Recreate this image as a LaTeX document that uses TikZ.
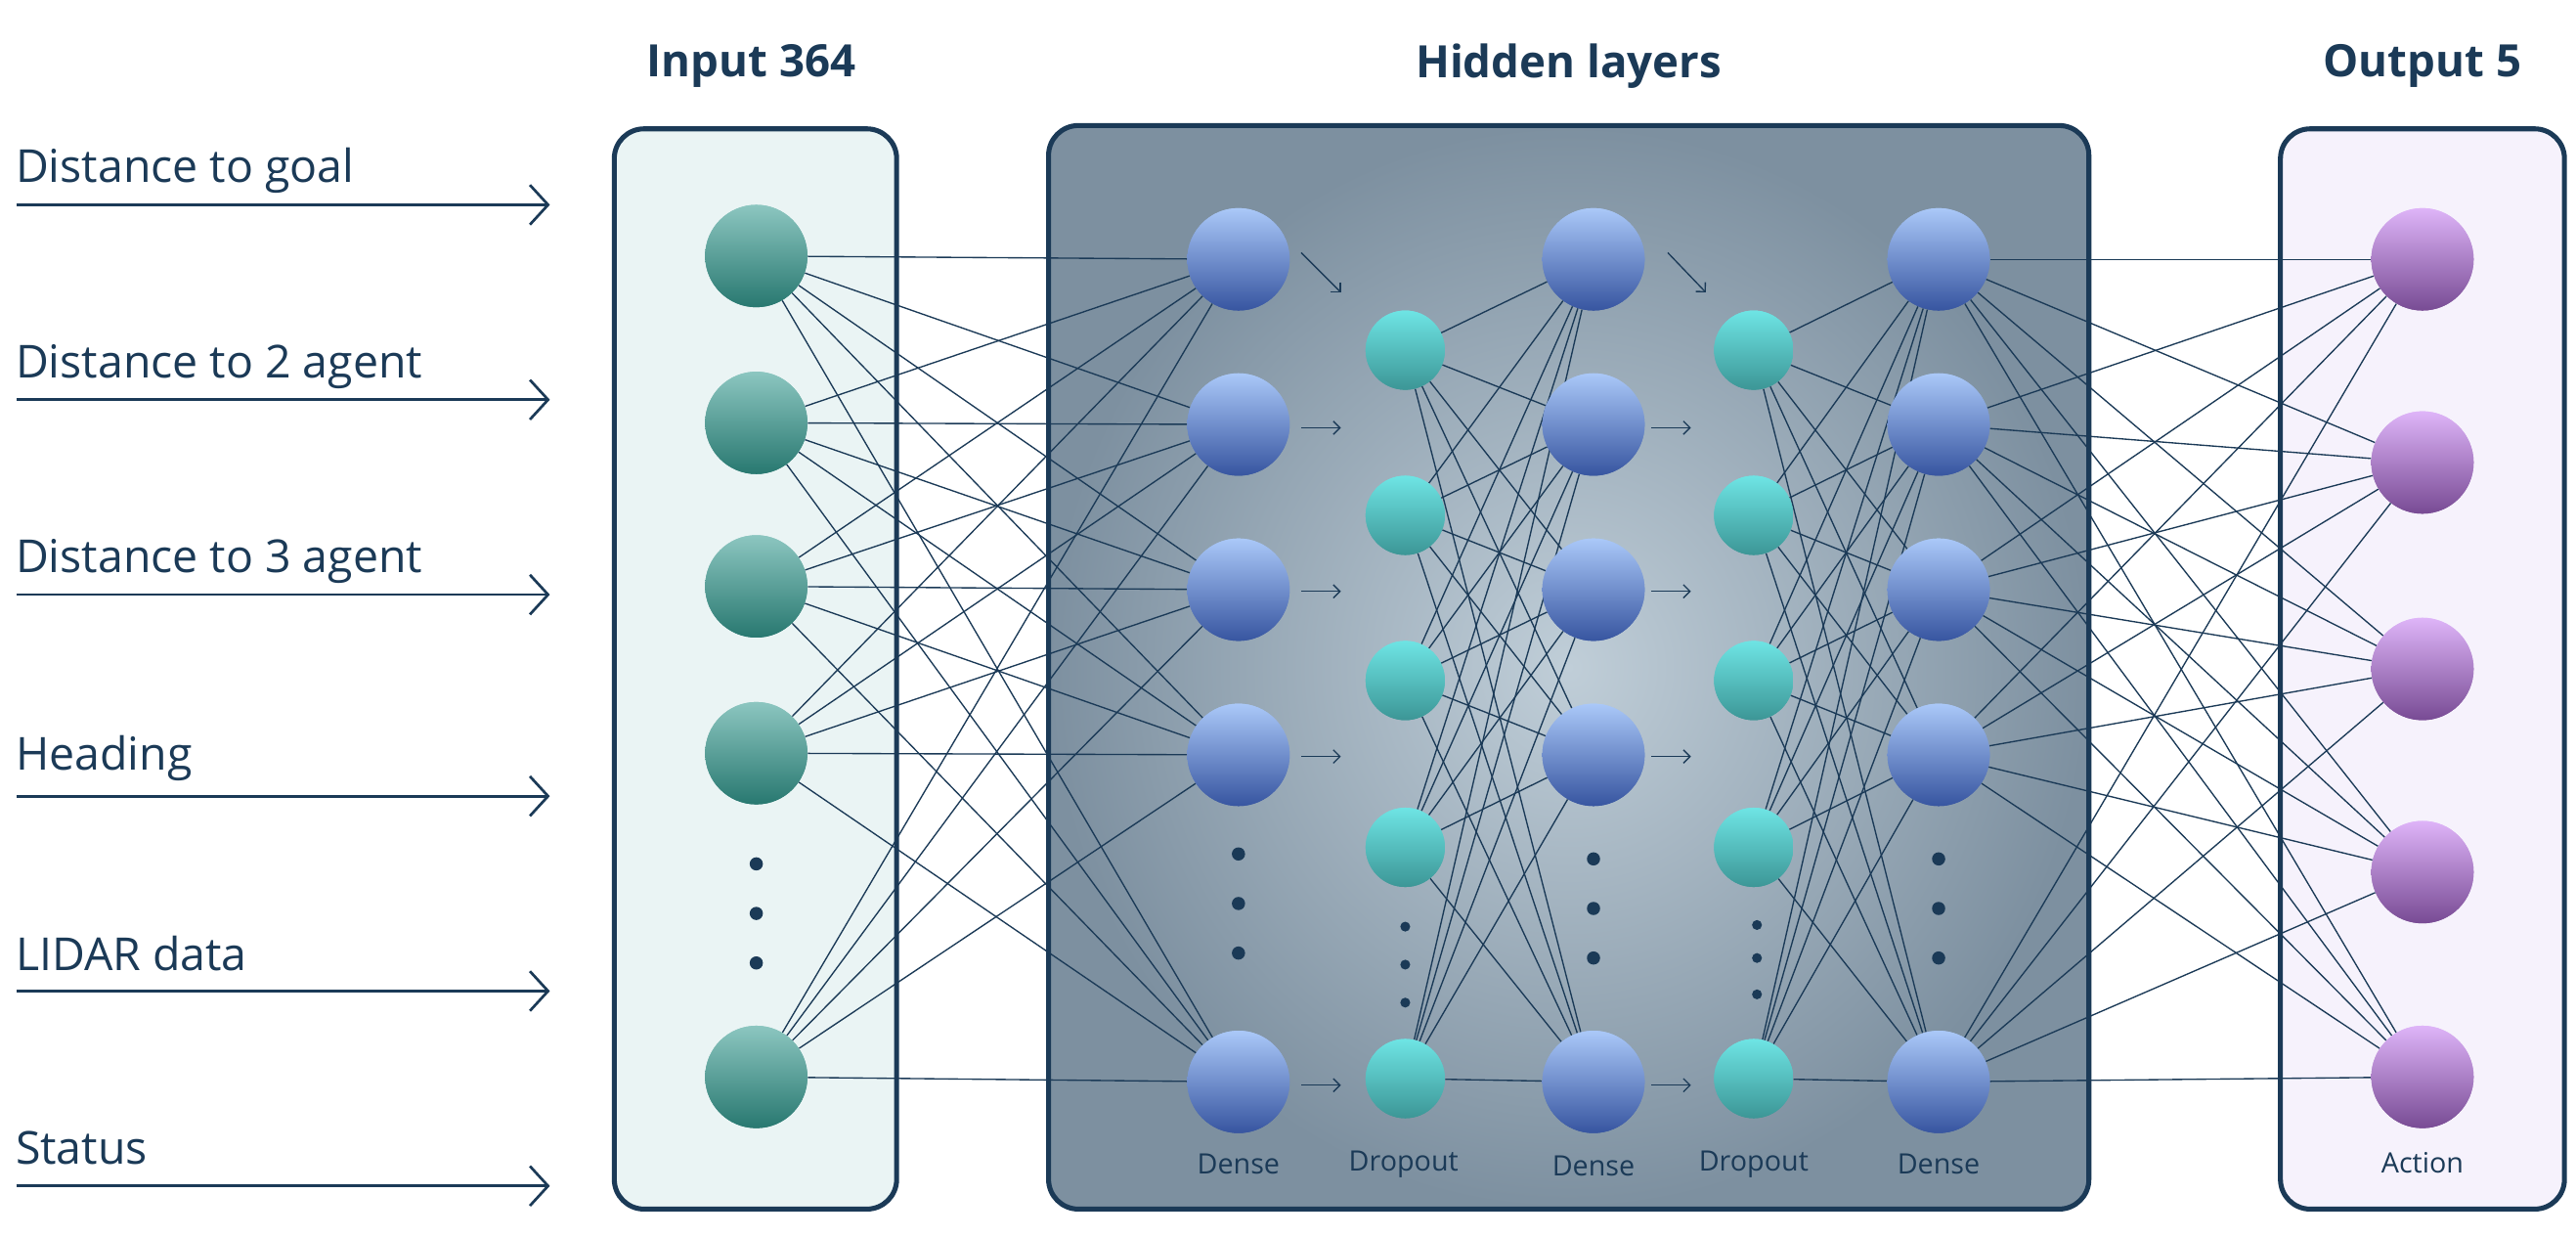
\documentclass[tikz,border=0pt]{standalone}
\usepackage{fontspec}
\setmainfont{Open Sans}
\usetikzlibrary{arrows.meta}
\definecolor{navy}{HTML}{1B3A57}
\begin{document}
\begin{tikzpicture}[x=1pt,y=-1pt,
  box/.style={draw=navy,line width=3pt,rounded corners=18pt},
  neur/.style={circle,minimum size=62pt,inner sep=0pt},
  tn/.style={neur,top color={rgb,255:red,140;green,198;blue,192},bottom color={rgb,255:red,40;green,120;blue,112}},
  dn/.style={neur,top color={rgb,255:red,170;green,200;blue,248},bottom color={rgb,255:red,55;green,85;blue,160}},
  cn/.style={neur,minimum size=48pt,top color={rgb,255:red,110;green,228;blue,228},bottom color={rgb,255:red,60;green,150;blue,150}},
  pn/.style={neur,top color={rgb,255:red,222;green,180;blue,248},bottom color={rgb,255:red,120;green,75;blue,148}},
  conn/.style={navy,line width=0.8pt},
  bigarr/.style={navy,line width=1.6pt,-{Straight Barb[length=11pt,width=24pt]}},
  smarr/.style={navy,line width=0.8pt,-{Straight Barb[length=4pt,width=8pt]}},
  lab/.style={anchor=west,text=navy,font=\fontsize{27.5}{32}\selectfont},
  ttl/.style={text=navy,font=\fontsize{27}{32}\selectfont\bfseries},
  sub/.style={text=navy,font=\fontsize{17}{20}\selectfont},
  dot/.style={circle,fill=navy,inner sep=0pt,minimum size=8pt}]
\useasboundingbox (0,0) rectangle (1560,749);
\fill[white] (0,0) rectangle (1560,749);
% boxes
\fill[rounded corners=18pt,fill={rgb,255:red,234;green,244;blue,244}] (372,78) rectangle (543,732);
\shade[rounded corners=18pt,inner color={rgb,255:red,192;green,206;blue,216},outer color={rgb,255:red,125;green,144;blue,160}] (635,76) rectangle (1265,732);
\fill[rounded corners=18pt,fill={rgb,255:red,246;green,242;blue,252}] (1381,78) rectangle (1553,732);
% titles
\node[ttl] (t1) at (455,40) {Input 364};
\node[ttl] (t2) at (950,40) {Hidden layers};
\node[ttl] (t3) at (1467,40) {Output 5};
% left labels
\foreach \t/\ly/\ay [count=\i] in {Distance to goal/103/124,Distance to 2 agent/222/242,Distance to 3 agent/340/360,Heading/459/482,LIDAR data/577/600,Status/695/718}{
  \node[lab] (l\i) at (6,\ly) {\t};
  \coordinate (as\i) at (10,\ay); \coordinate (ae\i) at (333,\ay);
  \draw[bigarr] (as\i) -- (ae\i);
}
% node coordinates
\foreach \y [count=\i] in {155,256,355,456,652}{\coordinate (pi\i) at (458,\y);}
\foreach \y [count=\i] in {157,257,357,457,655}{
  \coordinate (pa\i) at (750,\y);\coordinate (pc\i) at (965,\y);\coordinate (pe\i) at (1174,\y);}
\foreach \y [count=\i] in {212,312,412,513,653}{
  \coordinate (pb\i) at (851,\y);\coordinate (pd\i) at (1062,\y);}
\foreach \y [count=\i] in {157,280,405,528,652}{\coordinate (po\i) at (1467,\y);}
% nodes
\foreach \i in {1,...,5}{
  \node[tn] (I\i) at (pi\i) {};
  \node[dn] (A\i) at (pa\i) {};
  \node[cn] (B\i) at (pb\i) {};
  \node[dn] (C\i) at (pc\i) {};
  \node[cn] (D\i) at (pd\i) {};
  \node[dn] (E\i) at (pe\i) {};
  \node[pn] (O\i) at (po\i) {};
}
% connections
\foreach \i in {1,...,5}{\foreach \j in {1,...,5}{
  \draw[conn] (I\i) -- (A\j);
  \draw[conn] (B\i) -- (C\j);
  \draw[conn] (D\i) -- (E\j);
  \draw[conn] (E\i) -- (O\j);
}}
% redraw nodes on top
\foreach \i in {1,...,5}{
  \node[tn] at (pi\i) {};
  \node[dn] at (pa\i) {};
  \node[cn] at (pb\i) {};
  \node[dn] at (pc\i) {};
  \node[cn] at (pd\i) {};
  \node[dn] at (pe\i) {};
  \node[pn] at (po\i) {};
}
% box borders
\draw[box] (372,78) rectangle (543,732);
\draw[box] (635,76) rectangle (1265,732);
\draw[box] (1381,78) rectangle (1553,732);
% small arrows
\coordinate (s1a) at (788,153); \coordinate (s1b) at (812,177);
\draw[smarr] (s1a) -- (s1b);
\coordinate (s2a) at (1010,153); \coordinate (s2b) at (1033,177);
\draw[smarr] (s2a) -- (s2b);
\foreach \y [count=\k] in {259,358,458,657}{
  \coordinate (u\k) at (788,\y); \coordinate (v\k) at (812,\y);
  \draw[smarr] (u\k) -- (v\k);
  \coordinate (w\k) at (1000,\y); \coordinate (z\k) at (1024,\y);
  \draw[smarr] (w\k) -- (z\k);
}
% dots
\foreach \y [count=\k] in {523,553,583}{\node[dot] (di\k) at (458,\y) {};}
\foreach \y [count=\k] in {517,547,577}{\node[dot] (da\k) at (750,\y) {};}
\foreach \y [count=\k] in {520,550,580}{\node[dot] (dc\k) at (965,\y) {}; \node[dot] (de\k) at (1174,\y) {};}
\foreach \y [count=\k] in {561,584,607}{\node[dot,minimum size=6pt] (db\k) at (851,\y) {};}
\foreach \y [count=\k] in {560,580,602}{\node[dot,minimum size=6pt] (dd\k) at (1064,\y) {};}
% sublabels
\node[sub] (s1) at (750,705) {Dense};
\node[sub] (s2) at (850,705) {Dropout};
\node[sub] (s3) at (965,706) {Dense};
\node[sub] (s4) at (1062,705) {Dropout};
\node[sub] (s5) at (1174,705) {Dense};
\node[sub] (s6) at (1467,704) {Action};
\end{tikzpicture}
\end{document}
